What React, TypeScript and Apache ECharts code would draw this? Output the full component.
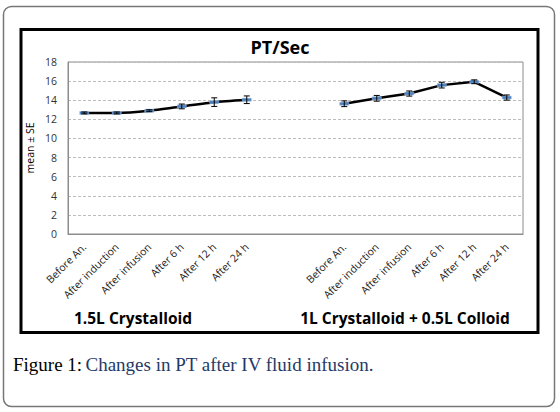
import { useEffect, useRef } from 'react';
import * as echarts from 'echarts';

// time points, same for both groups
const timePoints = ['Before An.', 'After induction', 'After infusion', 'After 6 h', 'After 12 h', 'After 24 h'];
// two empty slots separate the groups on the category axis
const gapSlots = ['', ''];

const crystalloidMean = [12.67, 12.67, 12.9, 13.35, 13.8, 14.05];
const crystalloidSE = [0.1, 0.1, 0.1, 0.25, 0.45, 0.4];

const colloidMean = [13.63, 14.2, 14.7, 15.58, 15.93, 14.28];
const colloidSE = [0.3, 0.3, 0.27, 0.3, 0.2, 0.27];

const yTicks = { min: 0, max: 18, interval: 2 };

const groupNames = ['1.5L Crystalloid', '1L Crystalloid + 0.5L Colloid'];

export default function App() {
  const ref = useRef<HTMLDivElement | null>(null);

  useEffect(() => {
    if (!ref.current) return;
    document.body.style.margin = '0';
    const chart = echarts.init(ref.current, undefined, { renderer: 'svg' });

    const categories = [...timePoints, ...gapSlots, ...timePoints];
    const offset = timePoints.length + gapSlots.length;

    const crystalloidPts = crystalloidMean.map((v, i) => [i, v]);
    const colloidPts = colloidMean.map((v, i) => [i + offset, v]);
    const bars = [
      ...crystalloidMean.map((v, i) => [i, v - crystalloidSE[i], v + crystalloidSE[i]]),
      ...colloidMean.map((v, i) => [i + offset, v - colloidSE[i], v + colloidSE[i]]),
    ];

    const lineStyle = { color: '#000', width: 2.5 };
    const marker = {
      symbol: 'rect',
      symbolSize: [9, 3],
      itemStyle: { color: '#4a7ebb', borderColor: '#9dbbe0', borderWidth: 0.5 },
    };

    chart.setOption({
      animation: false,
      backgroundColor: '#fff',
      grid: {
        left: 68,
        right: 37,
        top: 62,
        bottom: 178,
        show: true,
        borderColor: '#8c8c8c',
        borderWidth: 1,
      },
      xAxis: {
        type: 'category',
        data: categories,
        boundaryGap: true,
        axisTick: { show: false },
        axisLine: { show: true, lineStyle: { color: '#8c8c8c' } },
        axisLabel: {
          interval: 0,
          rotate: 45,
          margin: 11,
          fontFamily: 'Open Sans',
          fontSize: 10.5,
          color: '#222',
        },
      },
      yAxis: {
        type: 'value',
        ...yTicks,
        axisTick: { show: false },
        axisLine: { show: true, lineStyle: { color: '#8c8c8c' } },
        axisLabel: { fontFamily: 'Open Sans', fontSize: 10.5, color: '#333', margin: 11 },
        splitLine: { lineStyle: { color: '#bdbdbd', type: [3, 2] } },
      },
      series: [
        {
          type: 'line',
          data: crystalloidPts,
          smooth: 0.2,
          lineStyle,
          ...marker,
          z: 3,
        },
        {
          type: 'line',
          data: colloidPts,
          lineStyle,
          ...marker,
          z: 3,
        },
        {
          type: 'custom',
          data: bars,
          encode: { x: 0, y: [1, 2] },
          z: 4,
          renderItem: (_params: any, api: any) => {
            const lo = api.coord([api.value(0), api.value(1)]);
            const hi = api.coord([api.value(0), api.value(2)]);
            const hw = 3;
            const style = { stroke: '#000', lineWidth: 1 };
            return {
              type: 'group',
              children: [
                { type: 'line', shape: { x1: lo[0], y1: lo[1], x2: hi[0], y2: hi[1] }, style },
                { type: 'line', shape: { x1: lo[0] - hw, y1: lo[1], x2: lo[0] + hw, y2: lo[1] }, style },
                { type: 'line', shape: { x1: hi[0] - hw, y1: hi[1], x2: hi[0] + hw, y2: hi[1] }, style },
              ],
            };
          },
        },
      ],
      graphic: [
        {
          type: 'rect',
          shape: { x: 3.5, y: 6.5, width: 551, height: 400, r: 8 },
          style: { fill: 'none', stroke: '#777', lineWidth: 1.5 },
          silent: true,
        },
        {
          type: 'rect',
          shape: { x: 21, y: 29.5, width: 517, height: 303 },
          style: { fill: 'none', stroke: '#000', lineWidth: 3 },
          silent: true,
        },
        {
          type: 'text',
          x: 280,
          y: 47,
          style: {
            text: 'PT/Sec',
            font: 'bold 18px "Open Sans"',
            fill: '#000',
            textAlign: 'center',
            textVerticalAlign: 'middle',
          },
        },
        {
          type: 'text',
          x: 30,
          y: 148,
          rotation: Math.PI / 2,
          style: {
            text: 'mean ± SE',
            font: '10.5px "Open Sans"',
            fill: '#000',
            textAlign: 'center',
            textVerticalAlign: 'middle',
          },
        },
        {
          type: 'text',
          x: 133,
          y: 318,
          style: {
            text: groupNames[0],
            font: 'bold 15.5px "Open Sans"',
            fill: '#000',
            textAlign: 'center',
            textVerticalAlign: 'middle',
          },
        },
        {
          type: 'text',
          x: 405,
          y: 318,
          style: {
            text: groupNames[1],
            font: 'bold 15.5px "Open Sans"',
            fill: '#000',
            textAlign: 'center',
            textVerticalAlign: 'middle',
          },
        },
        {
          type: 'text',
          x: 13,
          y: 364,
          style: {
            text: '{a|Figure 1:} {b|Changes in PT after IV fluid infusion.}',
            textVerticalAlign: 'middle',
            rich: {
              a: { fontFamily: 'Liberation Serif', fontSize: 19, fill: '#000', color: '#000' },
              b: { fontFamily: 'Liberation Serif', fontSize: 19, fill: '#1f3a68', color: '#1f3a68' },
            },
          },
        },
      ],
    });

    return () => {
      chart.dispose();
    };
  }, []);

  return (
    <div
      ref={ref}
      style={{ position: 'absolute', left: 0, top: 0, width: 560, height: 412 }}
    />
  );
}
